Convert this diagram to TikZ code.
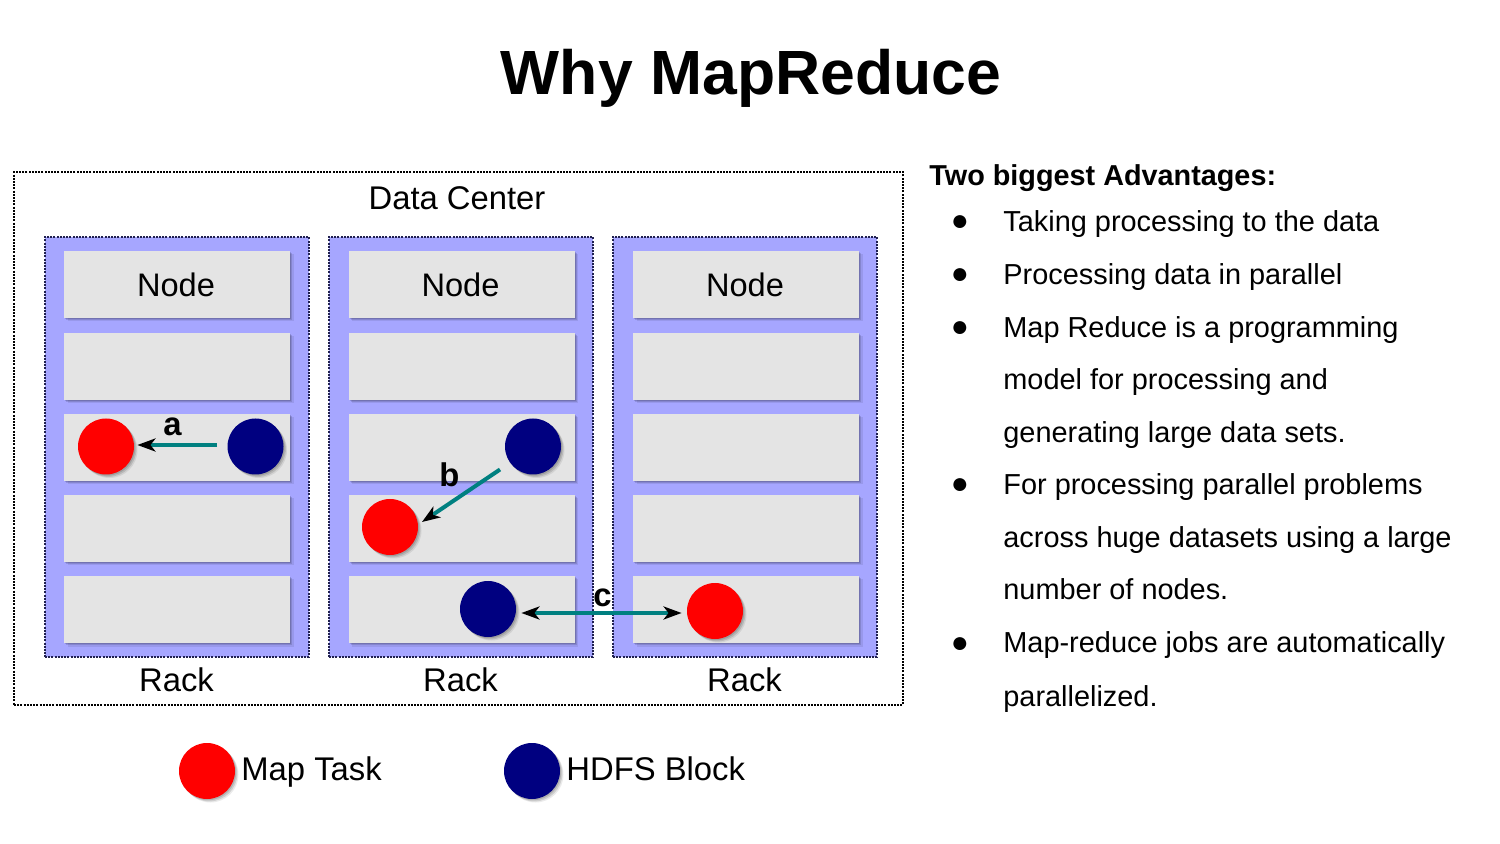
\documentclass[tikz,border=0pt]{standalone}
\usepackage{fontspec}
\setmainfont{Liberation Sans}
\usetikzlibrary{arrows.meta,shadows,calc}
\definecolor{rackfill}{HTML}{A6A6FF}
\definecolor{nodefill}{HTML}{E4E4E4}
\definecolor{flowteal}{HTML}{008080}
\definecolor{blockblue}{HTML}{000080}
\definecolor{rackedge}{HTML}{202050}
\tikzset{
  >={Stealth[color=black,length=9pt,width=6.5pt,inset=2.5pt]},
  softshadow/.style={
    general shadow={shadow xshift=1.75pt,shadow yshift=-1.75pt,fill=black,opacity=.08},
    general shadow={shadow xshift=1.2pt,shadow yshift=-1.2pt,fill=black,opacity=.12},
    general shadow={shadow xshift=.6pt,shadow yshift=-.6pt,fill=black,opacity=.14}},
  dcbox/.style={draw=black,line width=.8pt,dash pattern=on 1pt off .6pt,fill=white,inner sep=0pt,minimum width=444.5pt,minimum height=266.5pt},
  rackbox/.style={draw=rackedge,line width=1pt,dash pattern=on 1pt off .6pt,fill=rackfill,inner sep=0pt,minimum width=132pt,minimum height=210pt},
  nodebox/.style={fill=nodefill,inner sep=0pt,minimum width=113pt,minimum height=33.5pt,softshadow,font=\fontsize{16.3}{18}\selectfont},
  maptask/.style={circle,fill=red,inner sep=0pt,minimum size=28pt,softshadow},
  hdfsblock/.style={circle,fill=blockblue,inner sep=0pt,minimum size=28pt,softshadow},
  flow/.style={draw=flowteal,line width=2pt},
  plainlabel/.style={inner sep=0pt,font=\fontsize{16.4}{18}\selectfont},
  letterlabel/.style={inner sep=0pt,font=\fontsize{16.4}{18}\selectfont\bfseries},
  bodytext/.style={anchor=base west,inner sep=0pt,font=\fontsize{14.45}{16}\selectfont},
  bulletmark/.style={anchor=base,inner sep=0pt,font=\fontsize{15}{16}\selectfont}
}
\begin{document}
\begin{tikzpicture}[x=.5pt,y=-.5pt]
\useasboundingbox[fill=white] (0,0) rectangle (1500,844);
\node[inner sep=0pt,anchor=base,font=\fontsize{31.25}{36}\selectfont\bfseries] (title) at (751,95) {Why MapReduce};
\node[dcbox] (dc) at (458.5,438.5) {};
\node[plainlabel] (dclabel) at (457,198) {Data Center};
\foreach \r/\rx/\nx in {1/176.5/177,2/460.5/461.5,3/744.5/746}{
  \node[rackbox] (rack\r) at (\rx+.5,447) {};
  \node[nodebox,text depth=0pt] (n\r1) at (\nx,284.5) {\raisebox{-.5pt}{\hspace{-1pt}Node}};
  \node[nodebox] (n\r2) at (\nx,366.5) {};
  \node[nodebox] (n\r3) at (\nx,447.5) {};
  \node[nodebox] (n\r4) at (\nx,528.5) {};
  \node[nodebox] (n\r5) at (\nx,609.5) {};
  \node[plainlabel] (racklabel\r) at (\rx,680) {Rack};
}
\node[maptask] (ma) at (106,446.5) {};
\node[hdfsblock] (ha) at (255.5,446.5) {};
\node[hdfsblock] (hb) at (533,446.5) {};
\node[maptask] (mb) at (390,527) {};
\node[hdfsblock] (hc) at (488,609) {};
\node[maptask] (mc) at (715,611) {};
\draw[flow,->] ([shift={(-10,-1.5)}]ha.west) -- ([shift={(3,-1.5)}]ma.east);
\draw[flow,->] ([shift={(-33,23)}]hb.center) -- ([shift={(32,-5)}]mb.center);
\draw[flow,<->] ([shift={(5,4)}]hc.east) -- ([shift={(-5,2)}]mc.west);
\node[letterlabel] (la) at (172.5,427) {a};
\node[letterlabel] (lb) at (449.5,475) {b};
\node[letterlabel] (lc) at (602.5,598) {c};
\node[maptask] (legm) at (207,771) {};
\node[hdfsblock] (legh) at (532,771) {};
\node[plainlabel,anchor=base west] (legmt) at (241,780) {Map Task};
\node[plainlabel,anchor=base west] (leght) at (566,780) {HDFS Block};
\node[bodytext,font=\fontsize{14.4}{16}\selectfont\bfseries] (head) at (929,186) {Two biggest Advantages:};
\node[bodytext] (t1) at (1003,232) {Taking processing to the data};
\node[bodytext] (t2) at (1003,285) {Processing data in parallel};
\node[bodytext] (t3) at (1003,338) {Map Reduce is a programming};
\node[bodytext] (t4) at (1003,390) {model for processing and};
\node[bodytext] (t5) at (1003,443) {generating large data sets.};
\node[bodytext] (t6) at (1003,495) {For processing parallel problems};
\node[bodytext] (t7) at (1003,548) {across huge datasets using a large};
\node[bodytext] (t8) at (1003,600) {number of nodes.};
\node[bodytext] (t9) at (1003,653) {Map-reduce jobs are automatically};
\node[bodytext] (t10) at (1003,706) {parallelized.};
\foreach \yy/\nm in {231/b1,284/b2,337/b3,494/b4,652/b5}{
  \node[bulletmark] (\nm) at (960,\yy) {●};
}
\end{tikzpicture}
\end{document}
